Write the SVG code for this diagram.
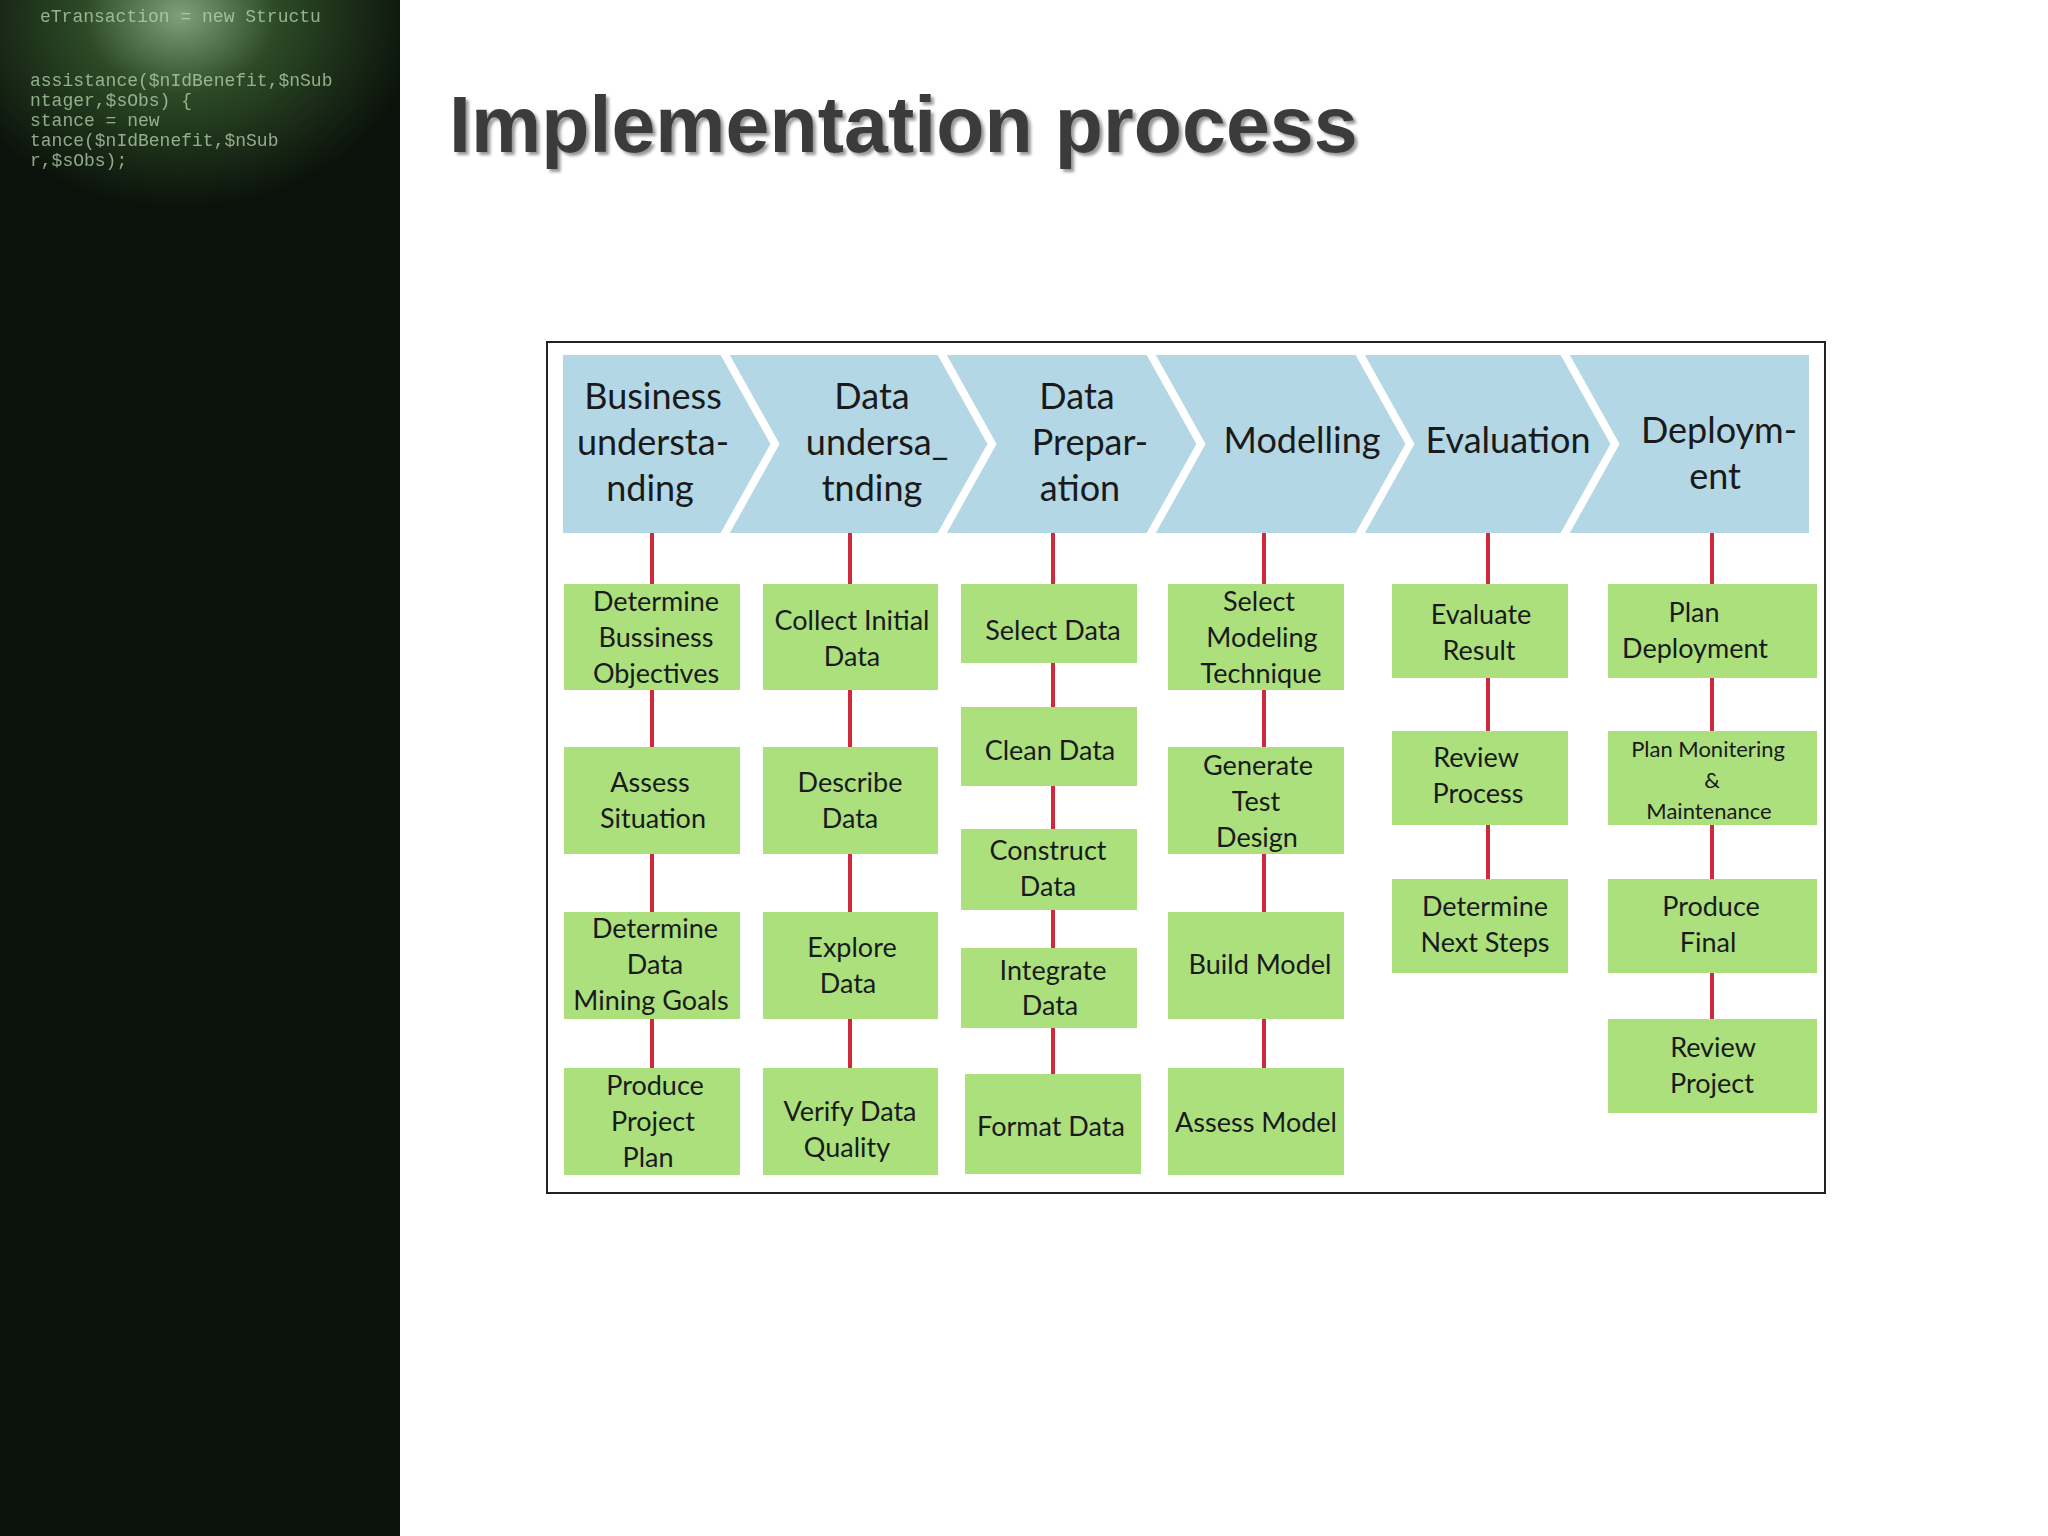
<svg xmlns="http://www.w3.org/2000/svg" width="2048" height="1536" viewBox="0 0 2048 1536">
<defs>
<radialGradient id="glow" cx="0.45" cy="0.05" r="0.6">
<stop offset="0" stop-color="#7fa07a"/><stop offset="0.4" stop-color="#2c4a26"/><stop offset="1" stop-color="#0b120b"/>
</radialGradient>
<filter id="sh"><feDropShadow dx="3" dy="3" stdDeviation="1.5" flood-color="#999"/></filter>
</defs>
<style>
.box{fill:#abe07d}
.hd{font-family:Lato,"Open Sans",sans-serif;font-size:36px;fill:#1a1a1a;text-anchor:middle}
.t{font-family:Lato,"Open Sans",sans-serif;font-size:27px;fill:#1a1a1a;text-anchor:middle}
.ts{font-family:Lato,"Open Sans",sans-serif;font-size:22px;fill:#1a1a1a;text-anchor:middle}
.code{font-family:"Liberation Mono",monospace;font-size:18px;fill:#b8d8b0;opacity:0.75}
.ln{stroke:#cf2a3c;stroke-width:4}
</style>
<rect width="2048" height="1536" fill="#fff"/>
<rect x="0" y="0" width="400" height="1536" fill="#0b120b"/>
<rect x="0" y="0" width="400" height="320" fill="url(#glow)"/>
<g class="code">
<text x="40" y="22">eTransaction = new Structu</text>
<text x="30" y="86">assistance($nIdBenefit,$nSub</text>
<text x="30" y="106">ntager,$sObs) {</text>
<text x="30" y="126">stance = new</text>
<text x="30" y="146">tance($nIdBenefit,$nSub</text>
<text x="30" y="166">r,$sObs);</text>
</g>
<text x="449" y="152" font-family="Liberation Sans,Arial,sans-serif" font-weight="bold" font-size="79" fill="#3a3a3a" filter="url(#sh)">Implementation process</text>
<rect x="547" y="342" width="1278" height="851" fill="#fff" stroke="#222" stroke-width="2"/>
<g id="header">
<rect x="563" y="355" width="1246" height="178" fill="#b3d7e5"/>
<g fill="none" stroke="#fff" stroke-width="8">
<polyline points="723,351 775,444 723,537"/>
<polyline points="940,351 992,444 940,537"/>
<polyline points="1149,351 1201,444 1149,537"/>
<polyline points="1358,351 1410,444 1358,537"/>
<polyline points="1563,351 1615,444 1563,537"/>
</g>
<text class="hd" x="653" y="409">Business</text><text class="hd" x="653" y="455">understa-</text><text class="hd" x="650" y="501">nding</text>
<text class="hd" x="872" y="409">Data</text><text class="hd" x="877" y="455">undersa_</text><text class="hd" x="872" y="501">tnding</text>
<text class="hd" x="1077" y="409">Data</text><text class="hd" x="1090" y="455">Prepar-</text><text class="hd" x="1080" y="501">ation</text>
<text class="hd" x="1302" y="453">Modelling</text>
<text class="hd" x="1508" y="453">Evaluation</text>
<text class="hd" x="1719" y="443">Deploym-</text><text class="hd" x="1715" y="489">ent</text>
</g>
<g id="connectors">
<line class="ln" x1="652" y1="533" x2="652" y2="1068"/>
<line class="ln" x1="850" y1="533" x2="850" y2="1068"/>
<line class="ln" x1="1053" y1="533" x2="1053" y2="1074"/>
<line class="ln" x1="1264" y1="533" x2="1264" y2="1068"/>
<line class="ln" x1="1488" y1="533" x2="1488" y2="879"/>
<line class="ln" x1="1712" y1="533" x2="1712" y2="1019"/>
</g>
<g id="c1a"><rect class="box" x="564" y="584" width="176" height="106"/><text class="t" x="656" y="611">Determine</text><text class="t" x="656" y="647">Bussiness</text><text class="t" x="656" y="683">Objectives</text></g>
<g id="c1b"><rect class="box" x="564" y="747" width="176" height="107"/><text class="t" x="650" y="792">Assess</text><text class="t" x="653" y="828">Situation</text></g>
<g id="c1c"><rect class="box" x="564" y="912" width="176" height="107"/><text class="t" x="655" y="938">Determine</text><text class="t" x="655" y="974">Data</text><text class="t" x="651" y="1010">Mining Goals</text></g>
<g id="c1d"><rect class="box" x="564" y="1068" width="176" height="107"/><text class="t" x="655" y="1095">Produce</text><text class="t" x="653" y="1131">Project</text><text class="t" x="648" y="1167">Plan</text></g>
<g id="c2a"><rect class="box" x="763" y="584" width="175" height="106"/><text class="t" x="852" y="630">Collect Initial</text><text class="t" x="852" y="666">Data</text></g>
<g id="c2b"><rect class="box" x="763" y="747" width="175" height="107"/><text class="t" x="850" y="792">Describe</text><text class="t" x="850" y="828">Data</text></g>
<g id="c2c"><rect class="box" x="763" y="912" width="175" height="107"/><text class="t" x="852" y="957">Explore</text><text class="t" x="848" y="993">Data</text></g>
<g id="c2d"><rect class="box" x="763" y="1068" width="175" height="107"/><text class="t" x="850" y="1121">Verify Data</text><text class="t" x="847" y="1157">Quality</text></g>
<g id="c3a"><rect class="box" x="961" y="584" width="176" height="79"/><text class="t" x="1053" y="640">Select Data</text></g>
<g id="c3b"><rect class="box" x="961" y="707" width="176" height="79"/><text class="t" x="1050" y="760">Clean Data</text></g>
<g id="c3c"><rect class="box" x="961" y="829" width="176" height="81"/><text class="t" x="1048" y="860">Construct</text><text class="t" x="1048" y="896">Data</text></g>
<g id="c3d"><rect class="box" x="961" y="948" width="176" height="80"/><text class="t" x="1053" y="980">Integrate</text><text class="t" x="1050" y="1015">Data</text></g>
<g id="c3e"><rect class="box" x="965" y="1074" width="176" height="100"/><text class="t" x="1051" y="1136">Format Data</text></g>
<g id="c4a"><rect class="box" x="1168" y="584" width="176" height="106"/><text class="t" x="1259" y="611">Select</text><text class="t" x="1262" y="647">Modeling</text><text class="t" x="1261" y="683">Technique</text></g>
<g id="c4b"><rect class="box" x="1168" y="747" width="176" height="107"/><text class="t" x="1258" y="775">Generate</text><text class="t" x="1256" y="811">Test</text><text class="t" x="1257" y="847">Design</text></g>
<g id="c4c"><rect class="box" x="1168" y="912" width="176" height="107"/><text class="t" x="1260" y="974">Build Model</text></g>
<g id="c4d"><rect class="box" x="1168" y="1068" width="176" height="107"/><text class="t" x="1256" y="1132">Assess Model</text></g>
<g id="c5a"><rect class="box" x="1392" y="584" width="176" height="94"/><text class="t" x="1481" y="624">Evaluate</text><text class="t" x="1479" y="660">Result</text></g>
<g id="c5b"><rect class="box" x="1392" y="731" width="176" height="94"/><text class="t" x="1476" y="767">Review</text><text class="t" x="1478" y="803">Process</text></g>
<g id="c5c"><rect class="box" x="1392" y="879" width="176" height="94"/><text class="t" x="1485" y="916">Determine</text><text class="t" x="1485" y="952">Next Steps</text></g>
<g id="c6a"><rect class="box" x="1608" y="584" width="209" height="94"/><text class="t" x="1694" y="622">Plan</text><text class="t" x="1695" y="658">Deployment</text></g>
<g id="c6b"><rect class="box" x="1608" y="731" width="209" height="94"/><text class="ts" x="1708" y="757">Plan Monitering</text><text class="ts" x="1712" y="788">&amp;</text><text class="ts" x="1709" y="819">Maintenance</text></g>
<g id="c6c"><rect class="box" x="1608" y="879" width="209" height="94"/><text class="t" x="1711" y="916">Produce</text><text class="t" x="1708" y="952">Final</text></g>
<g id="c6d"><rect class="box" x="1608" y="1019" width="209" height="94"/><text class="t" x="1713" y="1057">Review</text><text class="t" x="1712" y="1093">Project</text></g>
</svg>
